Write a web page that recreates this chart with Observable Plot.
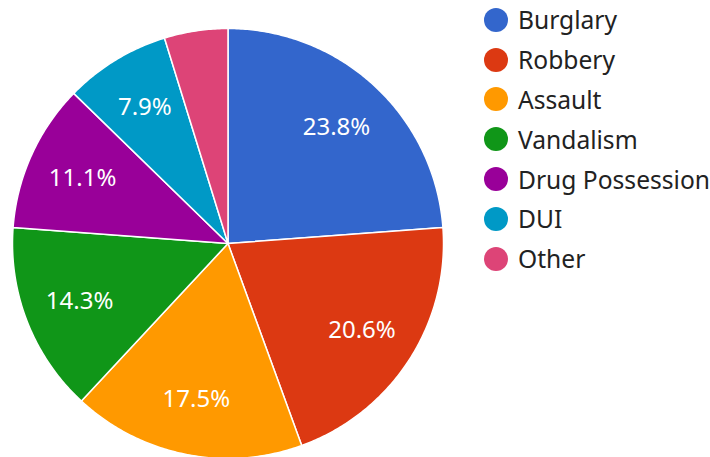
<!DOCTYPE html>
<html>
<head>
<meta charset="utf-8">
<script src="https://cdn.jsdelivr.net/npm/d3@7"></script>
<script src="https://cdn.jsdelivr.net/npm/@observablehq/plot@0.6"></script>
<style>
  html, body { margin: 0; padding: 0; background: #fff; }
  #wrap { position: relative; width: 710px; height: 457px; font-family: "Noto Sans", sans-serif; }
  #legend { position: absolute; left: 484px; top: 0px; }
  .row { display: flex; align-items: center; height: 39.8px; font-size: 24.6px; color: #222; white-space: nowrap; }
  .sw { width: 24px; height: 24px; border-radius: 50%; margin-right: 10px; flex: none; }
</style>
</head>
<body>
<div id="wrap"><div id="legend"></div></div>
<script>
const categories = ["Burglary", "Robbery", "Assault", "Vandalism", "Drug Possession", "DUI", "Other"];
const counts = [15, 13, 11, 9, 7, 5, 3];
const colors = ["#3366cc", "#dc3912", "#ff9900", "#109618", "#990099", "#0099c6", "#dd4477"];

const total = d3.sum(counts);
const pie = d3.pie().sort(null).value(d => d.count)(categories.map((c, i) => ({cat: c, count: counts[i]})));

// polygon outline for each slice (angle clockwise from 12 o'clock)
const poly = [];
for (const s of pie) {
  poly.push({cat: s.data.cat, x: 0, y: 0});
  const n = Math.max(2, Math.ceil((s.endAngle - s.startAngle) / 0.01));
  for (let k = 0; k <= n; k++) {
    const a = s.startAngle + (s.endAngle - s.startAngle) * k / n;
    poly.push({cat: s.data.cat, x: Math.sin(a), y: Math.cos(a)});
  }
}
const labels = pie.map(s => {
  const a = (s.startAngle + s.endAngle) / 2;
  const pct = s.data.count / total * 100;
  return {cat: s.data.cat, x: 0.74 * Math.sin(a), y: 0.74 * Math.cos(a), pct, text: pct.toFixed(1) + "%"};
}).filter(d => d.pct >= 5);

const chart = Plot.plot({
  width: 710,
  height: 457,
  margin: 0,
  style: {fontFamily: "Noto Sans", background: "transparent"},
  x: {domain: [-1, 1], range: [12, 443], axis: null},
  y: {domain: [-1, 1], range: [458, 28], axis: null},
  color: {domain: categories, range: colors},
  marks: [
    Plot.line(poly, {x: "x", y: "y", z: "cat", fill: "cat", stroke: "white", strokeWidth: 1.5, curve: "linear-closed"}),
    Plot.text(labels, {x: "x", y: "y", text: "text", fill: "white", fontSize: 24, fontFamily: "Noto Sans"})
  ]
});
chart.style.position = "absolute";
chart.style.left = "0px";
chart.style.top = "0px";
document.getElementById("wrap").prepend(chart);

const legend = d3.select("#legend");
categories.forEach((c, i) => {
  const row = legend.append("div").attr("class", "row");
  row.append("span").attr("class", "sw").style("background", colors[i]);
  row.append("span").text(c);
});
</script>
</body>
</html>
